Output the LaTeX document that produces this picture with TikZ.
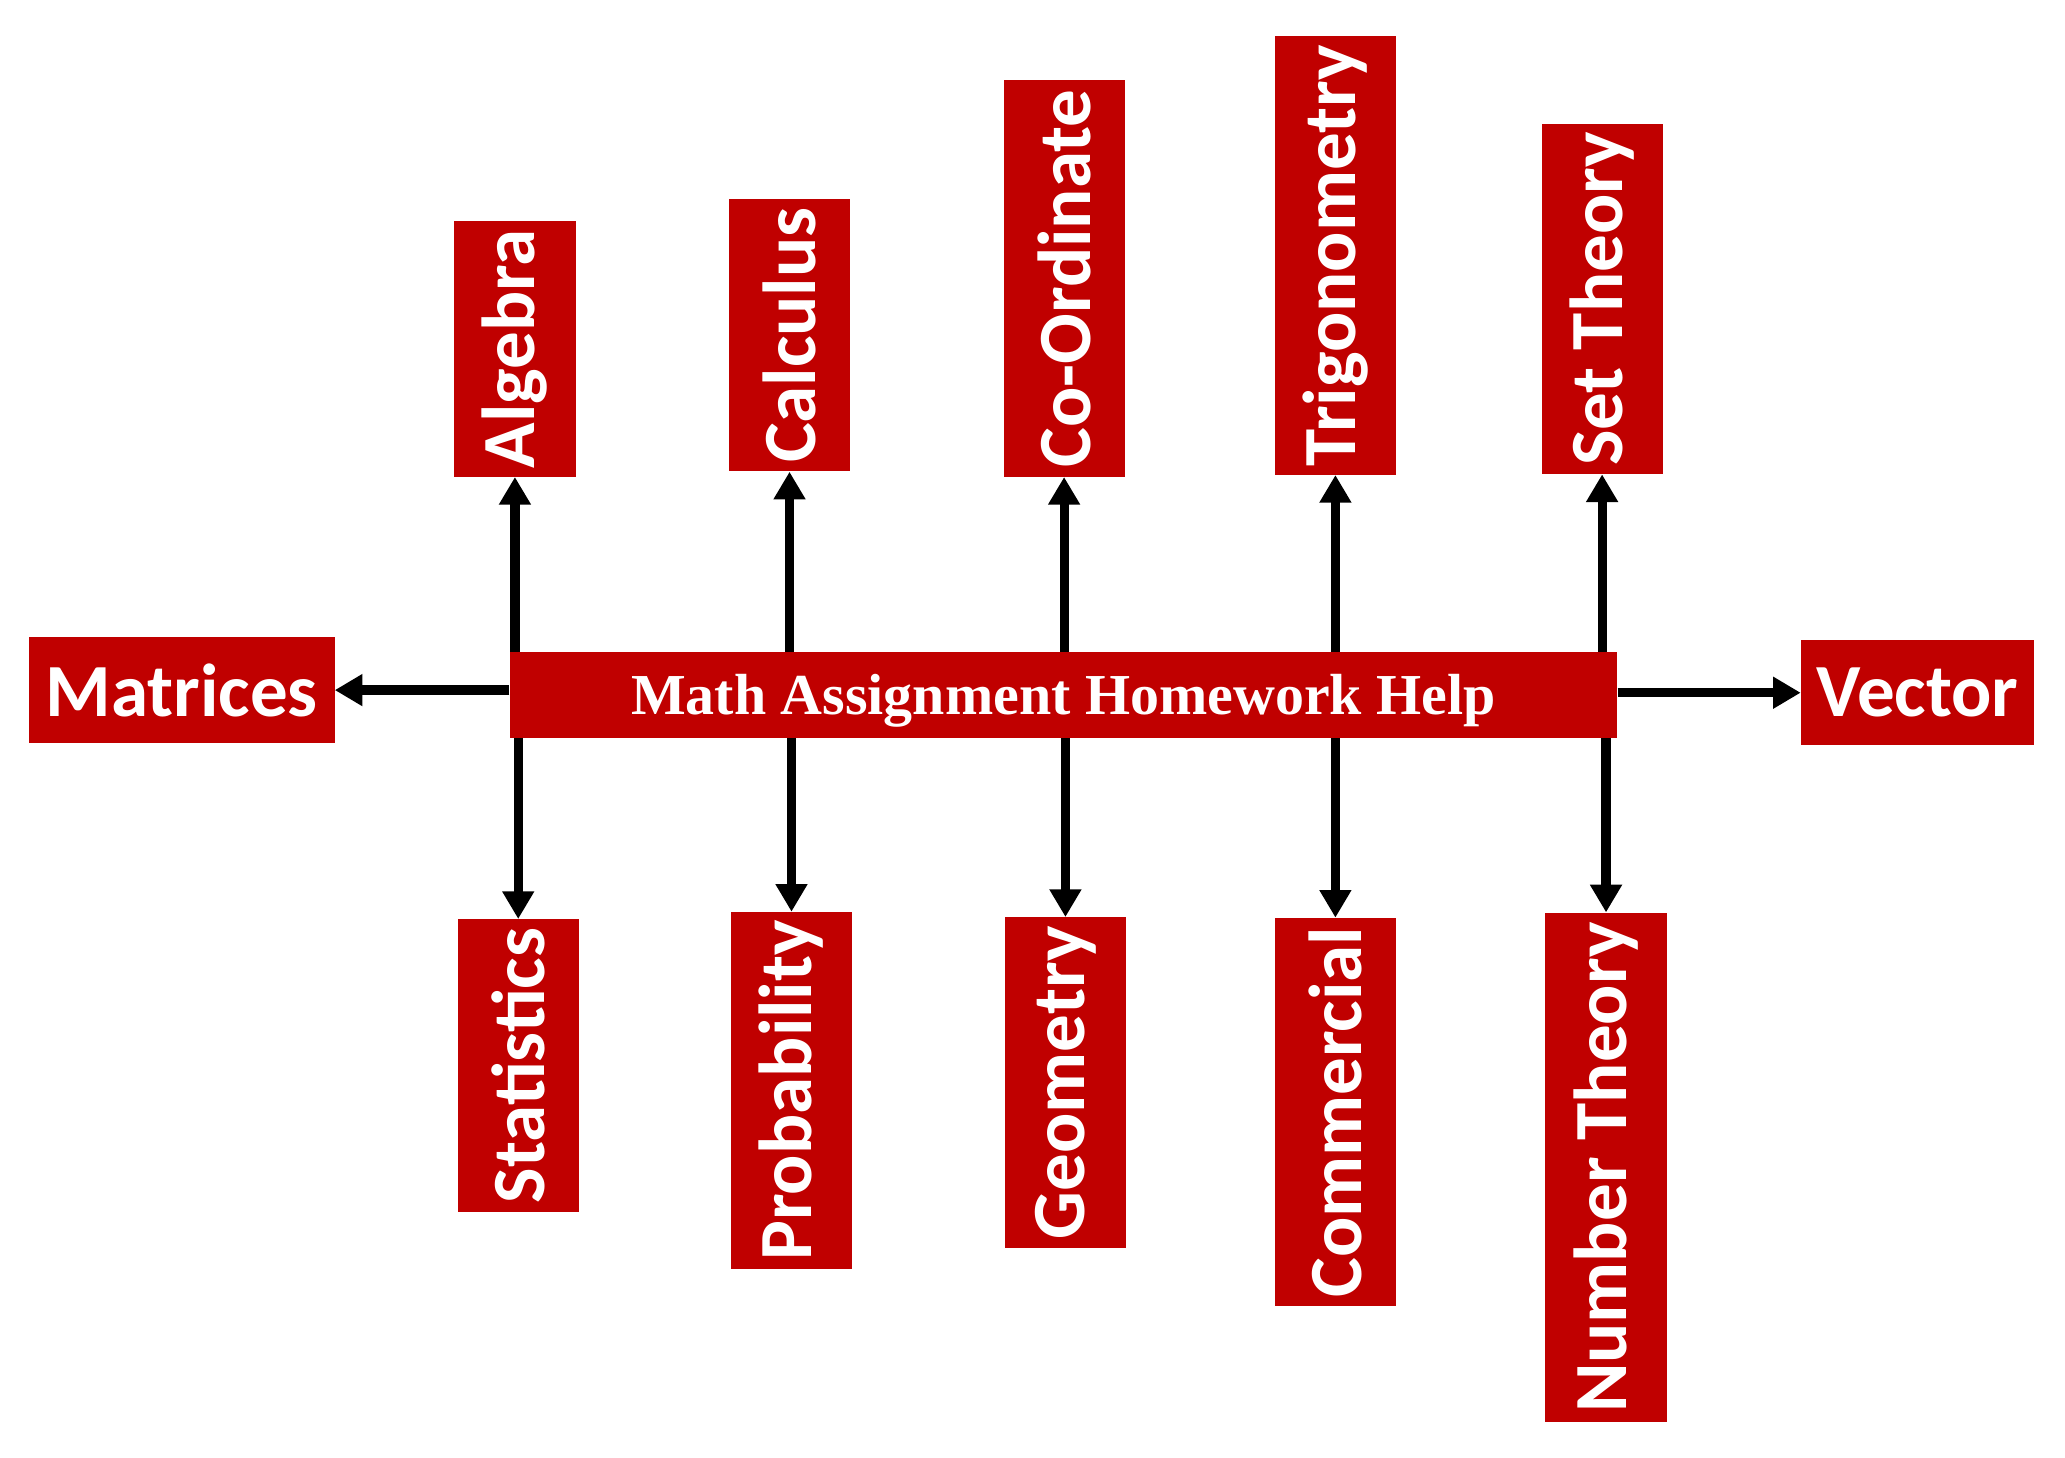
\documentclass[tikz,border=0pt]{standalone}
\usepackage{fontspec}
\setmainfont{Liberation Serif}
\newfontfamily\topicfont{Carlito}
\usetikzlibrary{arrows.meta,positioning}
\definecolor{boxred}{RGB}{192,0,0}

\begin{document}
\begin{tikzpicture}[x=1pt, y=-1pt,
    topic/.style={fill=boxred, text=white, inner sep=0pt, font=\topicfont\bfseries\fontsize{57}{68}\selectfont},
    upright/.style={topic, rotate=90, minimum height=92pt},
    link/.style={line width=7pt, -{Triangle[length=21pt, width=23pt]}}]
    \useasboundingbox (0,0) rectangle (1568,1107);

    \node[fill=boxred, text=white, inner sep=0pt, minimum width=841pt, minimum height=65pt, text depth=0pt, font=\bfseries\fontsize{44}{53}\selectfont] (help) at (807.5, 527.5) {Math Assignment Homework Help};

    \node[topic, minimum width=232pt, minimum height=80pt] (mat) at (138, 524) {Matrices};
    \node[topic, minimum width=177pt, minimum height=80pt] (vec) at (1456, 526) {Vector};

    \node[upright, minimum width=194pt] (alg) at (391, 265) {Algebra};
    \node[upright, minimum width=207pt] (calc) at (599.5, 254.5) {Calculus};
    \node[upright, minimum width=301pt] (coord) at (808, 211.5) {Co-Ordinate};
    \node[upright, minimum width=333pt] (trig) at (1014, 194) {Trigonometry};
    \node[upright, minimum width=266pt] (set) at (1216.5, 227) {Set Theory};

    \node[upright, minimum width=222pt] (stat) at (393.5, 809) {Statistics};
    \node[upright, minimum width=271pt] (prob) at (601, 828) {Probability};
    \node[upright, minimum width=251pt] (geom) at (809, 822) {Geometry};
    \node[upright, minimum width=295pt] (comm) at (1014, 844.5) {Commercial};
    \node[upright, minimum width=387pt] (numb) at (1219.5, 886.5) {Number Theory};

    \draw[link] (help.west |- mat) -- (mat);
    \draw[link] (help.east |- vec) -- (vec);

    \foreach \t in {alg, calc, coord, trig, set}
        \draw[link] (help.north -| \t) -- (\t);
    \foreach \b in {stat, prob, geom, comm, numb}
        \draw[link] (help.south -| \b) -- (\b);
\end{tikzpicture}
\end{document}
